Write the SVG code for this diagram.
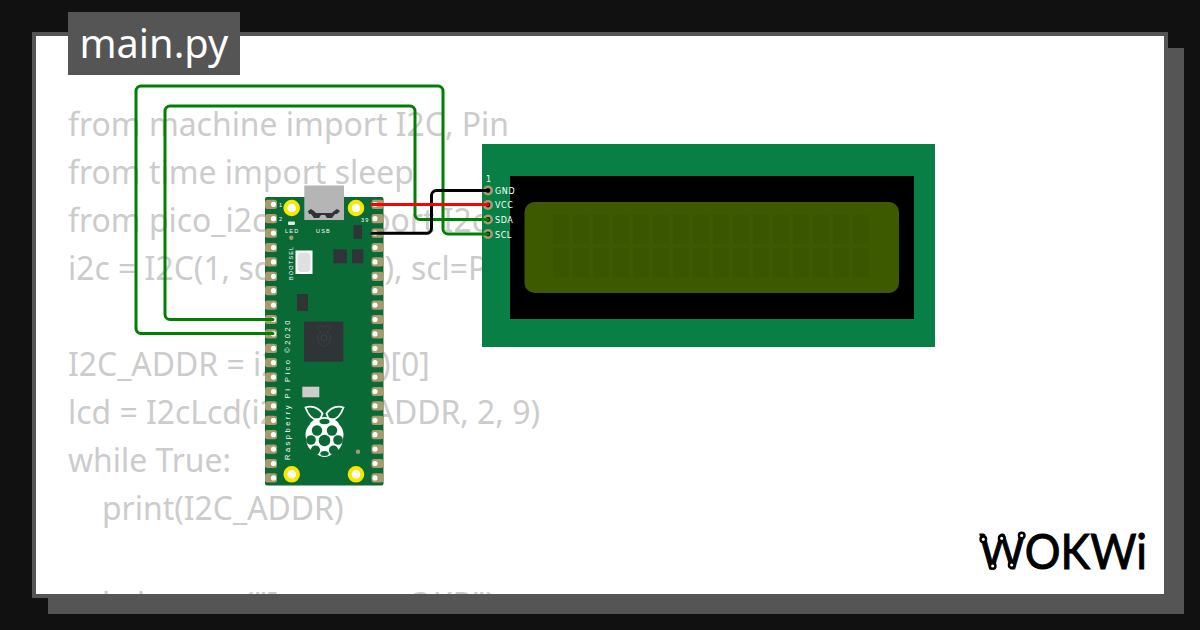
<svg xmlns="http://www.w3.org/2000/svg" width="1200" height="630" viewBox="0 0 1200 630">
<style>
.code{font-family:"Noto Sans","Open Sans",sans-serif;font-size:31.9px;fill:#ccc}
.wire{fill:none;stroke-width:3;stroke-linecap:round;stroke-linejoin:round}
.tan{fill:#a89a6c}
.ring{fill:#fff;stroke:#f8e800;stroke-width:4}
.chip{fill:#2f3436}
.lcdl{font-family:"DejaVu Sans",sans-serif;font-size:8px;fill:#fff;letter-spacing:.6px}
.ch{fill:#3a5700}
.hole{fill:#111}
</style>
<defs>
<clipPath id="panelClip"><rect x="36" y="36" width="1128" height="558"/></clipPath>
<g id="pL"><rect class="tan" x="265" y="-4.6" width="12" height="9.2" rx="2.5"/><circle cx="273.5" r="2.6" fill="#fff"/></g>
<g id="pR"><rect class="tan" x="371.5" y="-4.6" width="12" height="9.2" rx="2.5"/><circle cx="375" r="2.6" fill="#fff"/></g>
<g id="lp"><circle r="5" class="tan"/><circle r="2.4" class="hole"/></g>
</defs>
<rect width="1200" height="630" fill="#111"/>
<g id="frame">
<rect x="48" y="48" width="1136" height="566" fill="#555"/>
<rect x="34" y="34" width="1132" height="562" fill="#fff" stroke="#555" stroke-width="4"/>
</g>
<g id="code" clip-path="url(#panelClip)">
<text class="code" x="68" y="136">from machine import I2C, Pin</text>
<text class="code" x="68" y="184">from time import sleep</text>
<text class="code" x="68" y="232">from pico_i2c_lcd import I2cLcd</text>
<text class="code" x="68" y="280">i2c = I2C(1, sda=Pin(6), scl=Pin(7))</text>
<text class="code" x="68" y="376">I2C_ADDR = i2c.scan()[0]</text>
<text class="code" x="68" y="424">lcd = I2cLcd(i2c, I2C_ADDR, 2, 9)</text>
<text class="code" x="68" y="472">while True:</text>
<text class="code" x="102" y="520">print(I2C_ADDR)</text>
<text class="code" x="102" y="616">lcd.putstr("Innovate OKR")</text>
</g>
<g id="tab">
<rect x="68" y="12" width="172" height="63" fill="#555"/>
<text x="79.500" y="58" font-family="Noto Sans,Open Sans,sans-serif" font-size="39.700" fill="#fff">main.py</text>
</g>
<g id="lcd">
<rect x="482" y="144" width="453" height="203" fill="#087f45"/>
<rect x="510" y="176" width="404" height="143" fill="#000"/>
<rect x="524.500" y="202" width="374.500" height="91" rx="10" fill="#3e5a00"/>
<g id="lcd-chars">
<path class="ch" d="M553 215h16v29h-16zM573 215h16v29h-16zM593 215h16v29h-16zM613 215h16v29h-16zM633 215h16v29h-16zM653 215h16v29h-16zM673 215h16v29h-16zM693 215h16v29h-16zM713 215h16v29h-16zM733 215h16v29h-16zM753 215h16v29h-16zM773 215h16v29h-16zM793 215h16v29h-16zM813 215h16v29h-16zM833 215h16v29h-16zM853 215h16v29h-16z"/>
<path class="ch" d="M553 248h16v30h-16zM573 248h16v30h-16zM593 248h16v30h-16zM613 248h16v30h-16zM633 248h16v30h-16zM653 248h16v30h-16zM673 248h16v30h-16zM693 248h16v30h-16zM713 248h16v30h-16zM733 248h16v30h-16zM753 248h16v30h-16zM773 248h16v30h-16zM793 248h16v30h-16zM813 248h16v30h-16zM833 248h16v30h-16zM853 248h16v30h-16z"/>
</g>
<use href="#lp" x="488" y="190.500"/><use href="#lp" x="488" y="205"/><use href="#lp" x="488" y="219.500"/><use href="#lp" x="488" y="234"/>
<text class="lcdl" x="486" y="182">1</text>
<text class="lcdl" x="495" y="194">GND</text>
<text class="lcdl" x="495" y="208">VCC</text>
<text class="lcdl" x="495" y="223">SDA</text>
<text class="lcdl" x="495" y="238">SCL</text>
</g>
<g id="pico">
<rect x="265" y="197" width="118.500" height="288.500" rx="2" fill="#0a6a35"/>
<g id="pins-left">
<use href="#pL" y="204.300"/><use href="#pL" y="218.700"/><use href="#pL" y="233.100"/><use href="#pL" y="247.500"/><use href="#pL" y="261.900"/><use href="#pL" y="276.300"/><use href="#pL" y="290.700"/><use href="#pL" y="305.100"/><use href="#pL" y="319.500"/><use href="#pL" y="333.900"/><use href="#pL" y="348.300"/><use href="#pL" y="362.700"/><use href="#pL" y="377.100"/><use href="#pL" y="391.500"/><use href="#pL" y="405.900"/><use href="#pL" y="420.300"/><use href="#pL" y="434.700"/><use href="#pL" y="449.100"/><use href="#pL" y="463.500"/><use href="#pL" y="477.900"/>
</g>
<g id="pins-right">
<use href="#pR" y="204.300"/><use href="#pR" y="218.700"/><use href="#pR" y="233.100"/><use href="#pR" y="247.500"/><use href="#pR" y="261.900"/><use href="#pR" y="276.300"/><use href="#pR" y="290.700"/><use href="#pR" y="305.100"/><use href="#pR" y="319.500"/><use href="#pR" y="333.900"/><use href="#pR" y="348.300"/><use href="#pR" y="362.700"/><use href="#pR" y="377.100"/><use href="#pR" y="391.500"/><use href="#pR" y="405.900"/><use href="#pR" y="420.300"/><use href="#pR" y="434.700"/><use href="#pR" y="449.100"/><use href="#pR" y="463.500"/><use href="#pR" y="477.900"/>
</g>
<rect x="304.300" y="185.500" width="39.700" height="34.500" fill="#b5b5b5"/>
<path d="M308 211l3-2 3 2 2 2h16l2-2 3-2 3 2-3 3-2 0-3 4h-5l-2-3h-4l-2 3h-5l-3-4h-2z" fill="#2f3436"/>
<circle class="ring" cx="291.700" cy="208" r="6.300"/><circle class="ring" cx="356" cy="208" r="6.300"/>
<circle class="ring" cx="291.700" cy="474.300" r="6.300"/><circle class="ring" cx="356" cy="474.300" r="6.300"/>
<g font-family="Liberation Sans,Arial,sans-serif" font-size="5.500" fill="#fff" letter-spacing="1.200">
<text x="279" y="206.500">1</text><text x="279" y="220.500">2</text><text x="361" y="221.500">39</text>
<text x="285" y="232.500">LED</text><text x="316" y="232.500">USB</text>
<text transform="translate(292.500 280) rotate(-90)">BOOTSEL</text>
</g>
<text transform="translate(289.500 460) rotate(-90)" font-family="Liberation Sans,Arial,sans-serif" font-size="7.500" letter-spacing="2.500" fill="#fff">Raspberry Pi Pico ©2020</text>
<rect x="288" y="221.500" width="7" height="3.500" rx="1" fill="#e4e4e4"/>
<circle class="tan" cx="291.300" cy="237.700" r="2.200"/>
<circle class="tan" cx="358" cy="451.700" r="2.200"/>
<rect x="295.500" y="250.500" width="17" height="23.500" fill="#fff"/>
<rect x="297.500" y="252.500" width="13" height="19.500" rx="4" fill="#e0e0e0"/>
<rect class="chip" x="353.500" y="225" width="8.500" height="14"/>
<rect class="chip" x="333.300" y="249.300" width="13.700" height="14"/>
<rect class="chip" x="352" y="249.300" width="11.300" height="14"/>
<rect class="chip" x="297" y="294" width="11" height="17"/>
<rect class="chip" x="304" y="321.700" width="39.300" height="40"/>
<g fill="none" stroke="#444" stroke-width=".8"><path d="M324 327c-3-2-6-1-7 0 1 3 3 4 4 5-3 2-4 5-3 8 1 4 4 6 6 6s5-2 6-6c1-3 0-6-3-8 1-1 3-2 4-5-1-1-4-2-7 0z"/><circle cx="324" cy="338" r="3"/></g>
<rect x="302.300" y="386.700" width="17" height="10.600" fill="#ccc"/>
<g id="raspberry-logo">
<path d="M305.500 407.500c5-2 12-1 17 6-1 3-2 5-3 6-5 1-10-1-14-12zM343.500 407.500c-5-2-12-1-17 6 1 3 2 5 3 6 5 1 10-1 14-12z" fill="none" stroke="#fff" stroke-width="1.800"/>
<path d="M324.500 417c7 0 14 4 15 8 4 4 5 10 3 15 0 6-4 11-8 12-3 3-7 5-10 5s-7-2-10-5c-4-1-8-6-8-12-2-5-1-11 3-15 1-4 8-8 15-8z" fill="#fff"/>
<g fill="#0a6a35"><ellipse cx="324.500" cy="421.500" rx="5" ry="2.700"/><circle cx="317" cy="430.500" r="5.200"/><circle cx="332" cy="430.500" r="5.200"/><circle cx="324.500" cy="440.500" r="5.800"/><circle cx="311" cy="440" r="4.800"/><circle cx="338" cy="440" r="4.800"/><circle cx="315.500" cy="450" r="4.600"/><circle cx="333.500" cy="450" r="4.600"/><ellipse cx="324.500" cy="453.500" rx="4.200" ry="2.500"/></g>
</g>
</g>
<g id="connectors">
<path class="wire" stroke="#008000" d="M273 333.500H141a5 5 0 0 1-5-5V91a5 5 0 0 1 5-5H438a5 5 0 0 1 5 5V229a5 5 0 0 0 5 5H488"/>
<path class="wire" stroke="#008000" d="M273 319.500H170a5 5 0 0 1-5-5V111a5 5 0 0 1 5-5H410a5 5 0 0 1 5 5V214.500a5 5 0 0 0 5 5H488"/>
<path class="wire" stroke="#000" d="M372 233.300H426.500a5 5 0 0 0 5-5V195.500a5 5 0 0 1 5-5H488"/>
<path class="wire" stroke="#f00" d="M372 204.500H488"/>
</g>
<g id="wokwi-logo">
<text x="979" y="568.500" font-family="Lato,sans-serif" font-size="48" textLength="168" lengthAdjust="spacingAndGlyphs" fill="#000" stroke="#000" stroke-width="1">WOKWi</text>
<g fill="#fff" stroke="#000" stroke-width="2.400"><circle cx="983.300" cy="539.300" r="2.800"/><circle cx="1001.700" cy="538.300" r="2.800"/><circle cx="1021.700" cy="535.500" r="2.800"/><circle cx="992.700" cy="566" r="2.800"/><circle cx="1011.700" cy="565" r="2.800"/></g>
</g>
</svg>
